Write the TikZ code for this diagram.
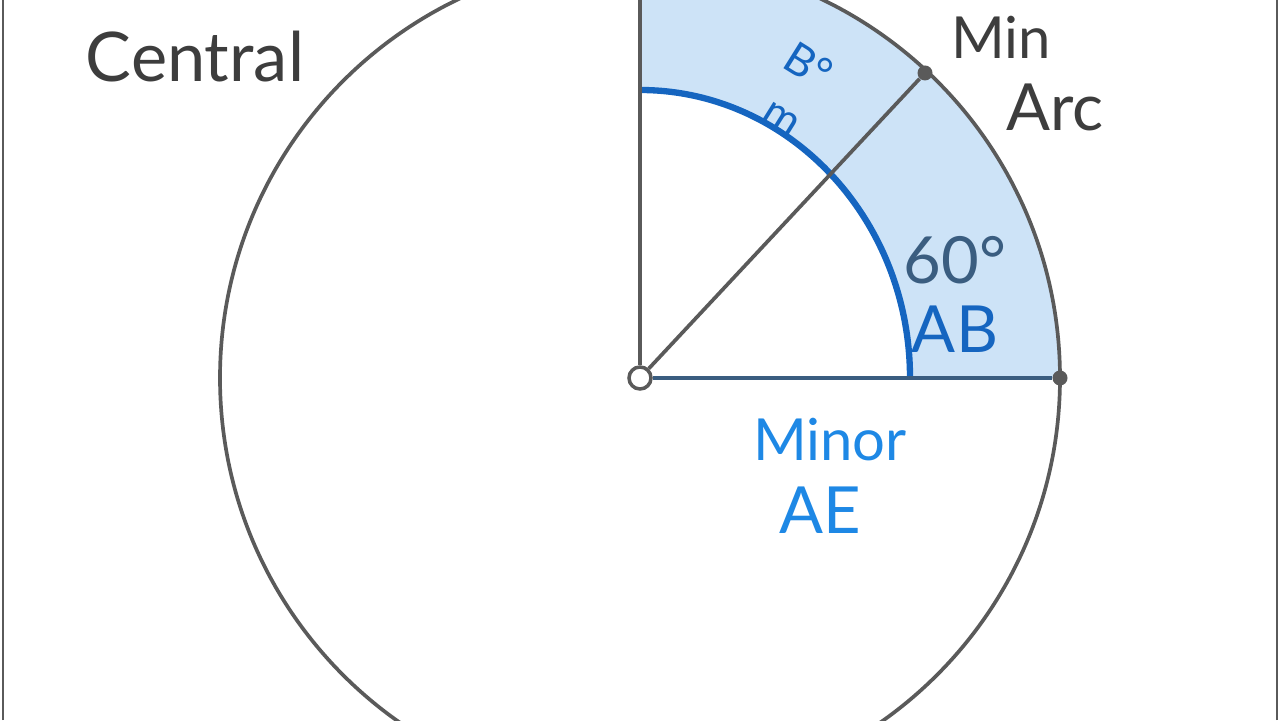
\documentclass[tikz,border=0pt]{standalone}
\usepackage{fontspec}
\setmainfont{Lato}
\usetikzlibrary{calc, positioning}
\definecolor{rimgray}{HTML}{5A5A5A}
\definecolor{textgray}{HTML}{3D3D3D}
\definecolor{arcfill}{HTML}{CDE3F7}
\definecolor{arcblue}{HTML}{1565C0}
\definecolor{slateblue}{HTML}{3A5D80}
\definecolor{lightblue}{HTML}{1E88E5}
\newcommand{\bigtext}{\fontsize{37}{42}\selectfont}
\newcommand{\midtext}{\fontsize{33}{38}\selectfont}
\newcommand{\smalltext}{\fontsize{25}{30}\selectfont}

\begin{document}
\begin{tikzpicture}[rim/.style = { draw = rimgray, line width = 2.1pt },
	dot/.style = { circle, fill = rimgray, inner sep = 0pt, minimum size = 0.3cm },
	label/.style = { inner sep = 0pt, text = textgray }]
		\useasboundingbox (0,0) rectangle (25.6,14.4);
		\clip (0,0) rectangle (25.6,14.4);

		\coordinate (O) at (12.8,6.84);
		\coordinate (top) at (12.8,15.24);

		% shaded band between the blue arc and the rim
		\fill [arcfill] ($(O)+(5.4,0)$) arc [start angle = 0, end angle = 90, x radius = 5.4, y radius = 5.76]
			-- (top) arc [start angle = 90, end angle = 0, radius = 8.4] -- cycle;

		\draw [rim] (O) circle [radius = 8.4];
		\draw [draw = arcblue, line width = 3.6pt] ($(O)+(5.4,0)$) arc [start angle = 0, end angle = 90, x radius = 5.4, y radius = 5.76];

		\node [dot] (A) at (21.2,6.84) {};
		\node [dot] (P) at (18.5,12.94) {};
		\node [circle, draw = rimgray, fill = white, line width = 2pt, inner sep = 0pt, minimum size = 0.44cm] (C) at (O) {};

		\draw [rim] (C) -- (top);
		\draw [rim] (C) -- (P);
		\draw [draw = slateblue, line width = 2.1pt] (C) -- (A);

		% frame sides
		\draw [rimgray, line width = 1pt] (0.06,0) -- (0.06,14.4);
		\draw [rimgray, line width = 1pt] (25.54,0) -- (25.54,14.4);

		\node [label] (central) at (3.9,13.26) {\fontsize{39}{44}\selectfont Central};
		\node [label] (min) at (20.02,13.66) {\midtext Min};
		\node [label, below = 0.5 of min.south east, anchor = north east, xshift = 1.05cm] (arc) {\bigtext Arc};

		\node [label, text = slateblue] (deg) at (19.1,9.2) {\bigtext 60\textdegree};
		\node [label, text = arcblue, below = 0.42 of deg] (AB) {\bigtext AB};

		\node [label, text = arcblue, rotate = -32] (bo) at (16.18,13.1) {\smalltext B°};
		\node [label, text = arcblue, rotate = -32] (m) at (15.62,12.02) {\smalltext m};

		\node [label, text = lightblue] (minor) at (16.6,5.6) {\midtext Minor};
		\node [label, text = lightblue, below = 0.5 of minor, xshift = -0.2cm] (AE) {\bigtext AE};
	\end{tikzpicture}
\end{document}
